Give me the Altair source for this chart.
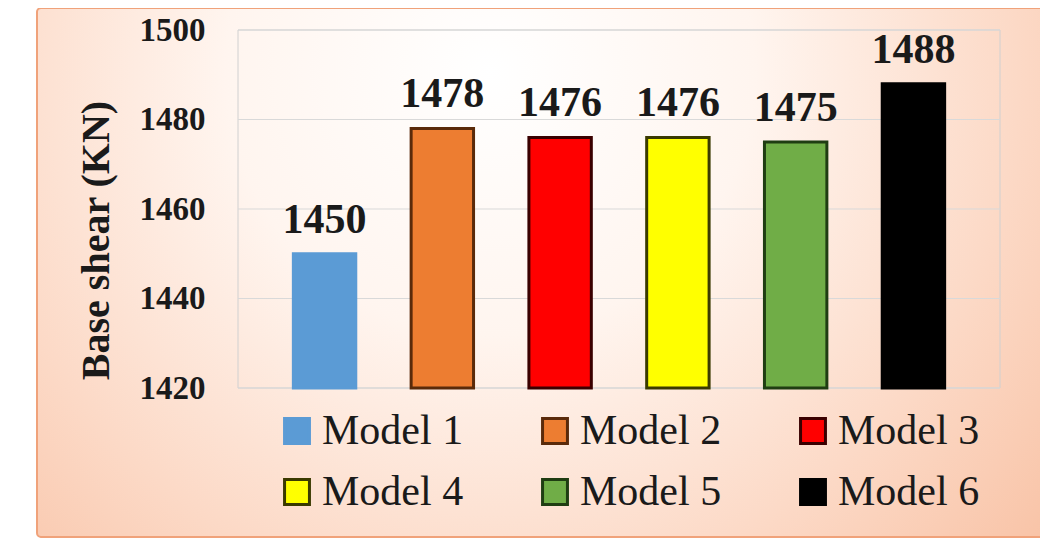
import altair as alt
import pandas as pd

models = ["Model 1", "Model 2", "Model 3", "Model 4", "Model 5", "Model 6"]
values = [1450, 1478, 1476, 1476, 1475, 1488]
fills = ["#5b9bd5", "#ed7d31", "#ff0000", "#ffff00", "#70ad47", "#000000"]
strokes = ["#5b9bd5", "#5a2a0a", "#3a0000", "#3a3a00", "#1f3d12", "#000000"]
y_ticks = [1420, 1440, 1460, 1480, 1500]
y_min, y_max = 1420, 1500

df = pd.DataFrame({"model": models, "value": values})
grid_df = pd.DataFrame({"tick": y_ticks})
frame_df = pd.DataFrame({"k": [0]})

serif = "Liberation Serif"

grad = alt.RadialGradient(
    gradient="radial",
    x1=0.45, y1=0.3, r1=0.0,
    x2=0.45, y2=0.3, r2=0.75,
    stops=[
        alt.GradientStop(color="#ffffff", offset=0.0),
        alt.GradientStop(color="#fff5ef", offset=0.35),
        alt.GradientStop(color="#fcd9c6", offset=0.7),
        alt.GradientStop(color="#f8c0a2", offset=1.0),
    ],
)

y_scale = alt.Scale(domain=[y_min, y_max], zero=False, nice=False)

shadow = alt.Chart(frame_df).mark_rect(fill="#b0a8a4", opacity=0.6, cornerRadius=4).encode(
    x=alt.value(-198), x2=alt.value(809), y=alt.value(-19), y2=alt.value(510)
)
frame = alt.Chart(frame_df).mark_rect(
    fill=grad, stroke="#f0a27a", strokeWidth=2, cornerRadius=4
).encode(
    x=alt.value(-201), x2=alt.value(806), y=alt.value(-22), y2=alt.value(507)
)
plot_border = alt.Chart(frame_df).mark_rect(
    fill="transparent", stroke="#d0d0d0", strokeWidth=1
).encode(
    x=alt.value(0), x2=alt.value("width"), y=alt.value(0), y2=alt.value("height")
)
grid = alt.Chart(grid_df).mark_rule(color="#d9d9d9", strokeWidth=1).encode(
    y=alt.Y("tick:Q", scale=y_scale)
)

x_enc = alt.X("model:N", sort=models, axis=None,
              scale=alt.Scale(paddingInner=0.47, paddingOuter=0.47))
y_enc = alt.Y(
    "value:Q",
    scale=y_scale,
    axis=alt.Axis(
        values=y_ticks, format="d", title="Base shear (KN)", grid=False,
        domain=False, ticks=False, tickSize=0, labelPadding=33, zindex=1,
        labelFont=serif, labelFontSize=33, labelFontWeight="bold", labelColor="#1a1a1a",
        titleFont=serif, titleFontSize=40, titleFontWeight="bold", titleColor="#1a1a1a",
        titleAngle=270, titleBaseline="alphabetic", titleAlign="center",
        titleX=-130, titleY=210,
    ),
)

bars = alt.Chart(df).mark_bar(strokeWidth=3).encode(
    x=x_enc,
    y=y_enc,
    y2=alt.datum(y_min),
    fill=alt.Fill("model:N", sort=models,
                  scale=alt.Scale(domain=models, range=fills),
                  legend=alt.Legend(
                      title=None, orient="none", legendX=38, legendY=380,
                      direction="horizontal", columns=3, symbolType="square",
                      symbolSize=620, symbolStrokeWidth=3, labelFont=serif,
                      labelFontSize=42, labelColor="#1a1a1a", labelOffset=4,
                      columnPadding=70, rowPadding=19, padding=0, labelLimit=300,
                  )),
    stroke=alt.Stroke("model:N", sort=models,
                      scale=alt.Scale(domain=models, range=strokes)),
)

labels = alt.Chart(df).mark_text(
    font=serif, fontSize=42, fontWeight="bold", color="#1a1a1a",
    baseline="alphabetic", dy=-21,
).encode(
    x=alt.X("model:N", sort=models),
    y=alt.Y("value:Q"),
    text=alt.Text("value:Q", format="d"),
)

chart = alt.layer(shadow, frame, plot_border, grid, bars, labels).properties(
    width=762, height=358,
    padding={"left": 230, "top": 22, "right": 40, "bottom": 150},
    autosize=alt.AutoSizeParams(type="none"),
    background="#ffffff",
).configure_view(stroke=None)

chart.save("out.html", embed_options={"renderer": "svg", "actions": False})
